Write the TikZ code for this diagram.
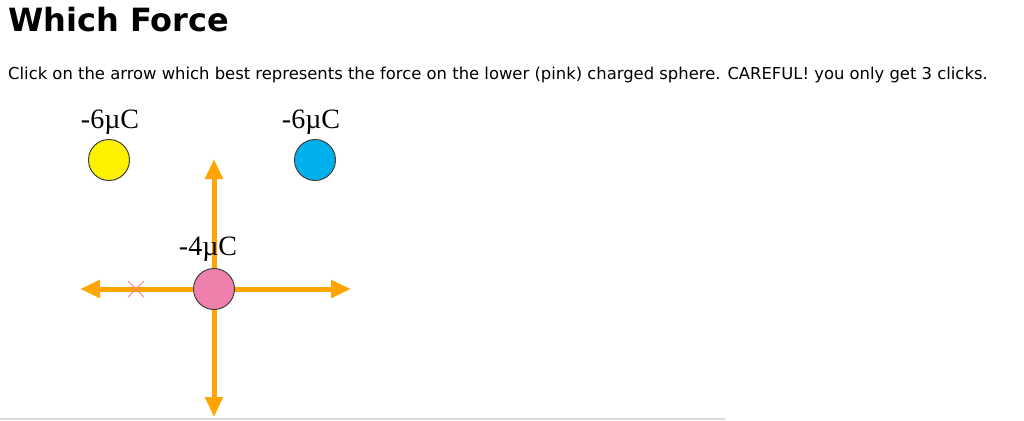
\documentclass[tikz,border=0pt]{standalone}
\usepackage{fontspec}
\setmainfont{Liberation Serif}
\newfontfamily\pagefont{DejaVu Sans}
\usetikzlibrary{arrows.meta}

\definecolor{forceorange}{HTML}{FFA500}
\definecolor{chargeyellow}{HTML}{FFF200}
\definecolor{chargeblue}{HTML}{00B0EA}
\definecolor{chargepink}{HTML}{EF80AC}
\definecolor{missred}{HTML}{FF7B7B}

\tikzset{
    charge/.style={circle, draw=black!75, line width=1pt, minimum size=41pt, inner sep=0pt},
    chargelabel/.style={anchor=base, inner sep=0pt, font=\fontsize{28}{30}\selectfont},
    force/.style={line width=5pt, forceorange, -{Triangle[length=20pt, width=17pt]}}
}

\begin{document}
\begin{tikzpicture}[x=1pt, y=-1pt]
    \useasboundingbox (0,0) rectangle (1024,420);

    % Define coordinates for the arrow tips
    \coordinate (UpTip) at (214, 159);
    \coordinate (DownTip) at (214, 417);
    \coordinate (LeftTip) at (80, 289);
    \coordinate (RightTip) at (351, 289);

    % Title and instruction
    \node[anchor=base west, inner sep=0pt, font=\pagefont\bfseries\fontsize{32}{34}\selectfont] (title) at (8, 32) {Which Force};
    \node[anchor=base west, inner sep=0pt, font=\pagefont\fontsize{16.4}{18}\selectfont] (task) at (8, 79)
        {Click on the arrow which best represents the force on the lower (pink) charged sphere. CAREFUL! you only get 3 clicks.};

    % Possible force arrows
    \coordinate (PinkCentre) at (214, 289);
    \foreach \tip in {UpTip, DownTip, LeftTip, RightTip} {
        \draw[force] (PinkCentre) -- (\tip);
    }

    % Wrong answer already clicked
    \draw[missred, line width=1pt] (128, 281) -- (144, 297) (128, 297) -- (144, 281);

    % Charged spheres
    \node[charge, fill=chargeyellow] (yellow) at (109, 160) {};
    \node[charge, fill=chargeblue] (blue) at (315, 160) {};
    \node[charge, fill=chargepink] (pink) at (PinkCentre) {};

    % Charge labels
    \node[chargelabel] (yellowq) at (110, 128) {-6µC};
    \node[chargelabel] (blueq) at (311, 128) {-6µC};
    \node[chargelabel] (pinkq) at (208, 255) {-4µC};

    % Page rule at the bottom
    \draw[black!15, line width=1.5pt] (0, 419) -- (725, 419);
\end{tikzpicture}
\end{document}
